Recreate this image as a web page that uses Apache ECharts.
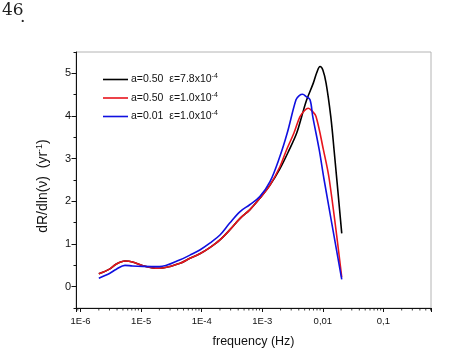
<!DOCTYPE html>
<html>
<head>
<meta charset="utf-8">
<script src="https://cdn.jsdelivr.net/npm/echarts@6/dist/echarts.min.js"></script>
<style>
html,body{margin:0;padding:0;background:#fff;}
#c{width:474px;height:364px;}
</style>
</head>
<body>
<div id="c"></div>
<script>
// ---- data (frequency in Hz, dR/dln(nu) in yr^-1) ----
var seriesNames = ['a=0.50  ε=7.8x10', 'a=0.50  ε=1.0x10', 'a=0.01  ε=1.0x10'];
var seriesSup = ['-4', '-4', '-4'];
var seriesColors = ['#000000', '#e8141c', '#1010e0'];

var freqBlack = [2.0e-6, 3.0e-6, 3.9e-6, 5.4e-6, 7.2e-6, 1.07e-5, 1.48e-5, 2.0e-5, 4.4e-5, 6.4e-5, 9.3e-5, 1.36e-4, 2.0e-4, 2.9e-4, 4.3e-4, 6.2e-4, 9.1e-4, 1.34e-3, 1.95e-3, 2.79e-3, 3.7e-3, 4.47e-3, 5.41e-3, 6.95e-3, 7.94e-3, 8.97e-3, 1.0e-2, 1.13e-2, 1.35e-2, 1.53e-2, 2.05e-2];
var valBlack  = [0.30, 0.41, 0.53, 0.60, 0.58, 0.49, 0.445, 0.43, 0.55, 0.665, 0.77, 0.915, 1.095, 1.33, 1.60, 1.80, 2.07, 2.38, 2.76, 3.21, 3.60, 3.99, 4.38, 4.77, 5.02, 5.16, 5.08, 4.77, 3.99, 3.21, 1.25];

var freqRed = [2.0e-6, 3.0e-6, 3.9e-6, 5.4e-6, 7.2e-6, 1.07e-5, 1.48e-5, 2.0e-5, 4.4e-5, 6.4e-5, 9.3e-5, 1.36e-4, 2.0e-4, 2.9e-4, 4.3e-4, 6.2e-4, 9.1e-4, 1.34e-3, 1.95e-3, 2.52e-3, 3.33e-3, 4.17e-3, 5.0e-3, 5.75e-3, 6.6e-3, 7.71e-3, 1.02e-2, 1.28e-2, 2.05e-2];
var valRed  = [0.30, 0.41, 0.53, 0.60, 0.58, 0.49, 0.445, 0.43, 0.55, 0.665, 0.77, 0.915, 1.095, 1.33, 1.60, 1.80, 2.07, 2.38, 2.81, 3.21, 3.60, 3.98, 4.13, 4.18, 4.12, 3.99, 3.21, 2.50, 0.22];

var freqBlue = [2.0e-6, 3.0e-6, 3.9e-6, 5.4e-6, 7.2e-6, 1.07e-5, 2.0e-5, 4.4e-5, 6.4e-5, 9.3e-5, 1.36e-4, 2.0e-4, 2.9e-4, 4.3e-4, 6.2e-4, 9.1e-4, 1.34e-3, 1.95e-3, 2.58e-3, 3.6e-3, 4.07e-3, 4.65e-3, 5.25e-3, 6.14e-3, 6.8e-3, 8.7e-3, 1.05e-2, 2.05e-2];
var valBlue  = [0.20, 0.31, 0.41, 0.50, 0.485, 0.475, 0.47, 0.63, 0.74, 0.86, 1.02, 1.21, 1.49, 1.76, 1.92, 2.11, 2.46, 3.05, 3.60, 4.38, 4.48, 4.51, 4.46, 4.38, 3.99, 3.21, 2.50, 0.17];

var xTickValues = [1e-6, 1e-5, 1e-4, 1e-3, 1e-2, 1e-1];
var xTickLabels = ['1E-6', '1E-5', '1E-4', '1E-3', '0,01', '0,1'];
var xMinorValues = [9e-7,
  2e-6,3e-6,4e-6,5e-6,6e-6,7e-6,8e-6,9e-6,
  2e-5,3e-5,4e-5,5e-5,6e-5,7e-5,8e-5,9e-5,
  2e-4,3e-4,4e-4,5e-4,6e-4,7e-4,8e-4,9e-4,
  2e-3,3e-3,4e-3,5e-3,6e-3,7e-3,8e-3,9e-3,
  2e-2,3e-2,4e-2,5e-2,6e-2,7e-2,8e-2,9e-2,
  2e-1,3e-1,4e-1,5e-1,6e-1];
var yTickValues = [0, 1, 2, 3, 4, 5];

var xMin = 8.4e-7, xMax = 0.61, yMin = -0.5, yMax = 5.5;

function pairs(f, v) { return f.map(function (x, i) { return [x, v[i]]; }); }
var seriesData = [pairs(freqBlack, valBlack), pairs(freqRed, valRed), pairs(freqBlue, valBlue)];

var font = 'Liberation Sans, Arial, sans-serif';
var chart = echarts.init(document.getElementById('c'));

function xLabel(v) {
  var e = v > 0 ? Math.log10(v) : v;
  var best = 0, bd = 1e9;
  xTickValues.forEach(function (t, i) { var d = Math.abs(Math.log10(t) - e); if (d < bd) { bd = d; best = i; } });
  return xTickLabels[best];
}

var lineSeries = seriesData.map(function (d, i) {
  return {
    name: seriesNames[i], type: 'line', data: d,
    smooth: 0.35, showSymbol: false, symbol: 'none',
    color: seriesColors[i],
    lineStyle: { color: seriesColors[i], width: 1.6 },
    itemStyle: { color: seriesColors[i] }
  };
});

// minor ticks of the logarithmic frequency axis
var minorTickSeries = {
  name: 'xminor', type: 'scatter', silent: true, clip: false, z: 5,
  data: xMinorValues.map(function (f) { return [f, yMin]; }),
  symbol: 'rect', symbolSize: [1, 2.5], symbolOffset: [0, 1.25],
  itemStyle: { color: '#111' }
};

chart.setOption({
  animation: false,
  backgroundColor: '#fff',
  graphic: [
    { type: 'text', left: 2, top: 2, style: { text: '46', font: '17px "DejaVu Serif", "Liberation Serif", serif', fill: '#222' } },
    { type: 'text', left: 20, top: 9, style: { text: '.', font: '17px "DejaVu Serif", "Liberation Serif", serif', fill: '#222' } }
  ],
  grid: { left: 76, right: 43, top: 52, bottom: 56, show: true, borderColor: '#b4b4b4', borderWidth: 1, backgroundColor: 'transparent' },
  legend: {
    orient: 'vertical', left: 103, top: 73, padding: 0,
    icon: 'rect', itemWidth: 25, itemHeight: 1.6, itemGap: 6.5,
    data: seriesNames,
    formatter: function (name) {
      var i = seriesNames.indexOf(name);
      return '{t|' + name + '}{s|' + seriesSup[i] + '}';
    },
    textStyle: {
      fontFamily: font,
      padding: [0, 0, 0, -2],
      rich: {
        t: { fontSize: 10.5, color: '#111', fontFamily: font, lineHeight: 13 },
        s: { fontSize: 7, color: '#111', fontFamily: font, verticalAlign: 'top', lineHeight: 9 }
      }
    }
  },
  xAxis: {
    type: 'log', logBase: 10, min: xMin, max: xMax,
    name: 'frequency (Hz)', nameLocation: 'middle', nameGap: 27,
    nameTextStyle: { fontFamily: font, fontSize: 12.5, color: '#111' },
    axisLine: { show: true, onZero: false, lineStyle: { color: '#111', width: 1 } },
    axisTick: { show: true, inside: false, length: 4, lineStyle: { color: '#111', width: 1 } },
    axisLabel: { show: true, customValues: xTickValues, formatter: xLabel, fontFamily: font, fontSize: 9.5, color: '#111', margin: 8 },
    splitLine: { show: false }, minorTick: { show: false }, minorSplitLine: { show: false }
  },
  yAxis: {
    type: 'value', min: yMin, max: yMax, interval: 1,
    name: '{a|dR/dln(ν)  (yr}{s|-1}{a|)}', nameLocation: 'middle', nameGap: 24, nameRotate: 90,
    nameTextStyle: {
      padding: [0, 12, 0, 0],
      rich: {
        a: { fontFamily: font, fontSize: 14, color: '#111', lineHeight: 17 },
        s: { fontFamily: font, fontSize: 9, color: '#111', verticalAlign: 'top', lineHeight: 11 }
      }
    },
    axisLine: { show: true, onZero: false, lineStyle: { color: '#111', width: 1 } },
    axisTick: { show: true, inside: false, length: 2.5, lineStyle: { color: '#111', width: 1 } },
    minorTick: { show: true, splitNumber: 2, length: 4.5, lineStyle: { color: '#111', width: 1 } },
    axisLabel: { show: true, customValues: yTickValues, fontFamily: font, fontSize: 11, color: '#111', margin: 5 },
    splitLine: { show: false }, minorSplitLine: { show: false }
  },
  series: lineSeries.concat([minorTickSeries])
});
</script>
</body>
</html>
